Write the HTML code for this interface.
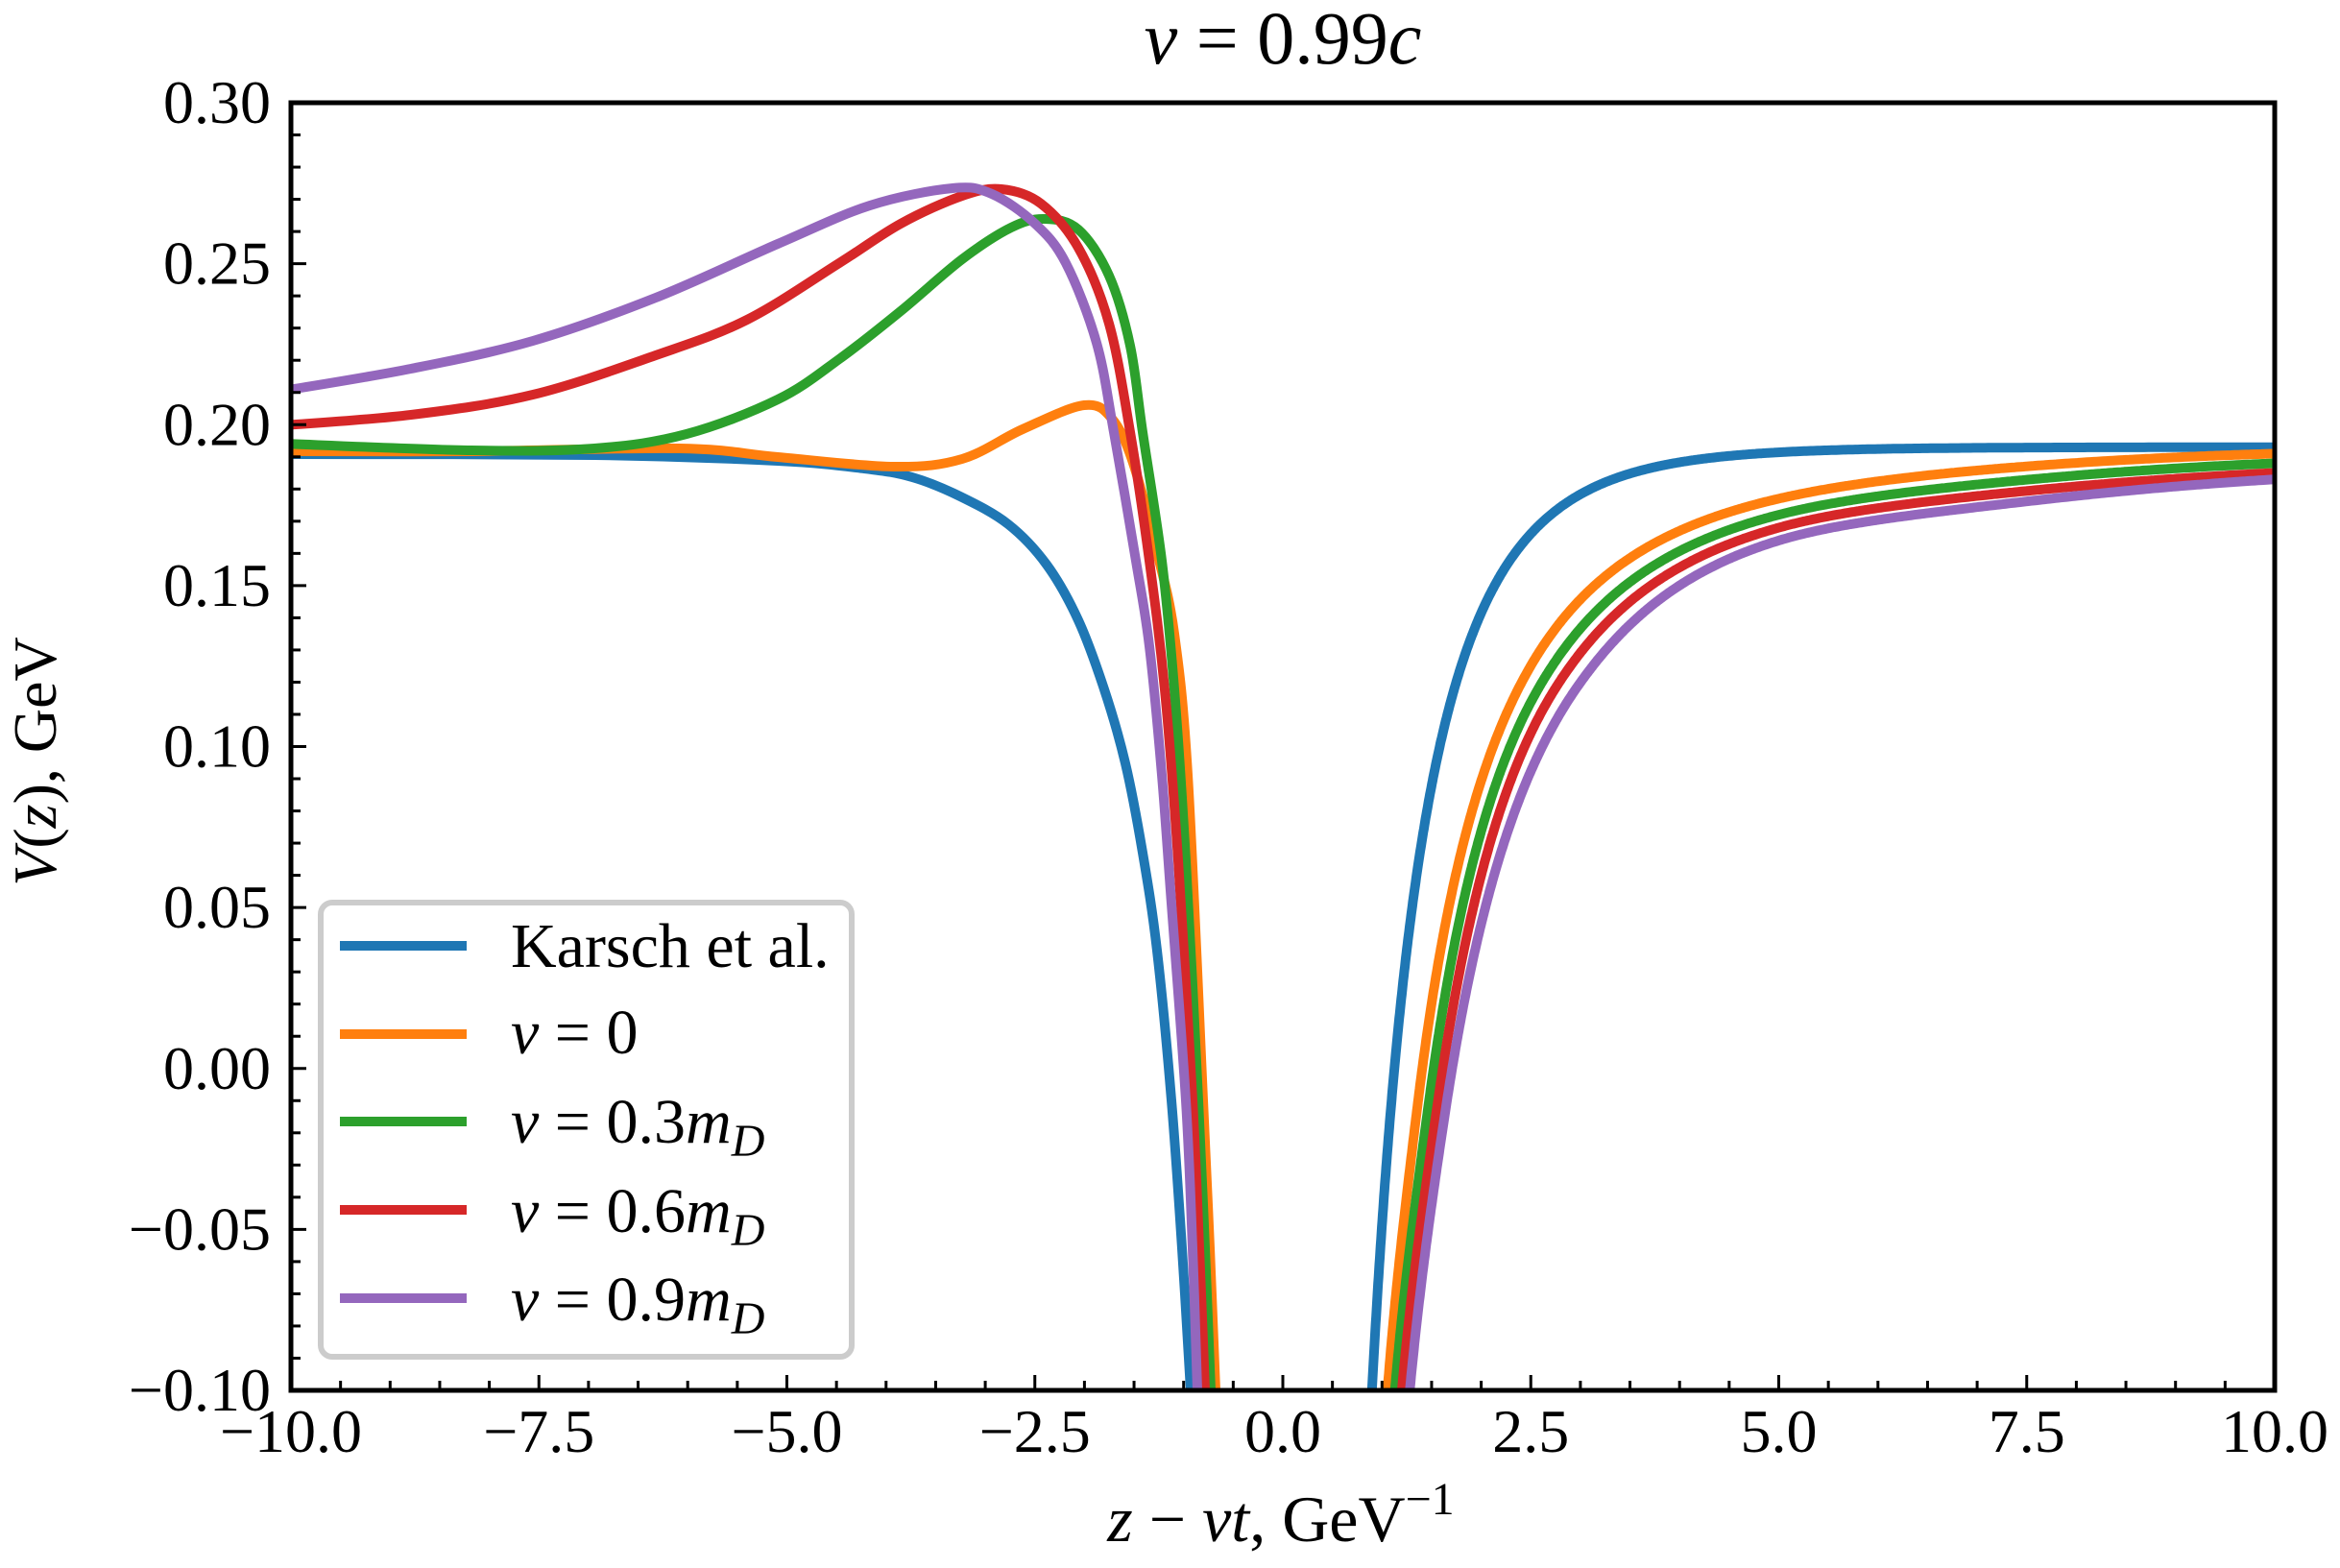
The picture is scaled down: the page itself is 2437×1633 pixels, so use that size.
<!DOCTYPE html>
<html><head><meta charset="utf-8"><style>
html,body{margin:0;padding:0;background:#fff;}
svg{display:block;}
text{font-family:"Liberation Serif",serif;fill:#000;}
</style></head><body>
<svg id="s" width="2437" height="1633" viewBox="0 0 2437 1633" xmlns="http://www.w3.org/2000/svg">
<defs><clipPath id="c"><rect x="303" y="107" width="2066" height="1341"/></clipPath></defs>
<rect width="2437" height="1633" fill="#fff"/>
<g id="curves" clip-path="url(#c)" fill="none" stroke-width="10" stroke-linejoin="round" stroke-linecap="butt"></g>
<g id="ticks" stroke="#000" stroke-width="3"></g>
<rect x="303" y="107" width="2066" height="1341" fill="none" stroke="#000" stroke-width="5"/>
<g id="labels" font-size="64"></g>
<text x="1336" y="66" font-size="78" text-anchor="middle"><tspan font-style="italic">v</tspan> = 0.99<tspan font-style="italic">c</tspan></text>
<text x="1334" y="1605" font-size="68" text-anchor="middle"><tspan font-style="italic">z</tspan> − <tspan font-style="italic">vt</tspan>, GeV<tspan dy="-28" font-size="48">−1</tspan></text>
<text transform="translate(58,793) rotate(-90)" font-size="64" text-anchor="middle"><tspan font-style="italic">V</tspan>(<tspan font-style="italic">z</tspan>), GeV</text>
<rect x="334" y="940" width="553" height="473" rx="12" fill="#fff" fill-opacity="0.85" stroke="#cccccc" stroke-width="6"/>
<g stroke-width="10">
<line x1="354" y1="985" x2="486" y2="985" stroke="#1f77b4"/>
<line x1="354" y1="1077" x2="486" y2="1077" stroke="#ff7f0e"/>
<line x1="354" y1="1168" x2="486" y2="1168" stroke="#2ca02c"/>
<line x1="354" y1="1260" x2="486" y2="1260" stroke="#d62728"/>
<line x1="354" y1="1352" x2="486" y2="1352" stroke="#9467bd"/>
</g>
<g font-size="66">
<text x="532" y="1007">Karsch et al.</text>
<text x="532" y="1097"><tspan font-style="italic">ν</tspan> = 0</text>
<text x="532" y="1190"><tspan font-style="italic">ν</tspan> = 0.3<tspan font-style="italic">m</tspan><tspan font-style="italic" font-size="48" dy="14">D</tspan></text>
<text x="532" y="1283"><tspan font-style="italic">ν</tspan> = 0.6<tspan font-style="italic">m</tspan><tspan font-style="italic" font-size="48" dy="14">D</tspan></text>
<text x="532" y="1375"><tspan font-style="italic">ν</tspan> = 0.9<tspan font-style="italic">m</tspan><tspan font-style="italic" font-size="48" dy="14">D</tspan></text>
</g>
</svg>
<script>
(function(){
var NS="http://www.w3.org/2000/svg";
function path(pts){
  var d="M"+pts[0][0]+","+pts[0][1];
  for(var i=0;i<pts.length-1;i++){
    var p0=pts[i-1]||pts[i],p1=pts[i],p2=pts[i+1],p3=pts[i+2]||p2;
    var c1=[p1[0]+(p2[0]-p0[0])/6,p1[1]+(p2[1]-p0[1])/6];
    var c2=[p2[0]-(p3[0]-p1[0])/6,p2[1]-(p3[1]-p1[1])/6];
    d+=" C"+c1[0].toFixed(1)+","+c1[1].toFixed(1)+" "+c2[0].toFixed(1)+","+c2[1].toFixed(1)+" "+p2[0]+","+p2[1];
  }
  return d;
}
function poly(pts){return "M"+pts.map(function(p){return p[0].toFixed(1)+","+p[1].toFixed(1);}).join(" L");}
function X(r){return 1336+r*103.3;}
function Y(v){return 107+(0.30-v)*3352.5;}
function interp(knots,r){
  var L=knots.map(function(k){return [Math.log(k[0]),Math.log(k[1])];});
  var lr=Math.log(r),n=L.length;
  if(lr<=L[0][0]){var s=(L[1][1]-L[0][1])/(L[1][0]-L[0][0]);return Math.exp(L[0][1]+s*(lr-L[0][0]));}
  if(lr>=L[n-1][0]){var s2=(L[n-1][1]-L[n-2][1])/(L[n-1][0]-L[n-2][0]);return Math.exp(L[n-1][1]+s2*(lr-L[n-1][0]));}
  var i=0;while(L[i+1][0]<lr)i++;
  function m(k){var a=L[Math.max(k-1,0)],b=L[Math.min(k+1,n-1)];return (b[1]-a[1])/(b[0]-a[0]);}
  var h=L[i+1][0]-L[i][0],t=(lr-L[i][0])/h;
  var h00=2*t*t*t-3*t*t+1,h10=t*t*t-2*t*t+t,h01=-2*t*t*t+3*t*t,h11=t*t*t-t*t;
  return Math.exp(h00*L[i][1]+h10*h*m(i)+h01*L[i+1][1]+h11*h*m(i+1));
}
function rightCurve(f,r0){
  var pts=[];
  for(var k=0;k<=600;k++){var r=r0*Math.pow(10.3/r0,k/600);var v=f(r);pts.push([X(r),Y(v)]);}
  return poly(pts);
}
var c=0.195;
var R={
"#1f77b4":rightCurve(function(r){return 0.193-0.566*Math.exp(-0.852*r)/r;},0.80),
"#ff7f0e":rightCurve(function(r){return c-interp([[1.055,.295],[1.36,.206],[2.37,.0773],[5,.018],[7.4,.0082],[10,.004]],r);},0.98),
"#2ca02c":rightCurve(function(r){return c-interp([[1.13,.295],[1.47,.206],[2.57,.0773],[5,.023],[7.4,.0124],[10,.007]],r);},1.05),
"#d62728":rightCurve(function(r){return c-interp([[1.2,.295],[1.56,.206],[2.74,.0773],[5,.027],[7.4,.0159],[10,.010]],r);},1.12),
"#9467bd":rightCurve(function(r){return c-interp([[1.28,.295],[1.65,.206],[2.95,.0773],[5,.031],[7.4,.0192],[10,.012]],r);},1.2)
};
var S={
"#1f77b4":[[295,473],[619,474],[810,480],[900,488],[950,497],[1000,517],[1050,546],[1090,588],[1123,646],[1150,718],[1172,795],[1190,888],[1205,990],[1220,1146],[1231,1300],[1240,1448],[1244,1520]],
"#ff7f0e":[[295,470],[491,470],[708,467],[810,476],[931,486],[1002,478],[1065,447],[1129,422],[1158,436],[1180,482],[1205,575],[1223,660],[1237,807],[1253,1146],[1260,1300],[1266,1448],[1270,1520]],
"#2ca02c":[[295,462],[491,469],[619,467],[715,452],[810,416],[874,374],[938,324],[1002,270],[1053,237],[1088,228],[1123,239],[1155,287],[1177,360],[1190,450],[1210,584],[1223,718],[1235,896],[1248,1146],[1255,1300],[1261,1448],[1264,1520]],
"#d62728":[[295,443],[428,432],[555,411],[683,370],[778,333],[874,274],[938,233],[1002,204],[1043,197],[1084,212],[1123,258],[1155,337],[1177,450],[1197,584],[1213,718],[1227,896],[1242,1146],[1249,1300],[1255,1448],[1258,1520]],
"#9467bd":[[295,407],[428,384],[555,355],[683,310],[810,254],[906,214],[992,196],[1033,202],[1078,233],[1110,274],[1142,357],[1160,450],[1183,584],[1197,673],[1210,807],[1220,941],[1235,1146],[1242,1300],[1247,1448],[1250,1520]]
};
var g=document.getElementById("curves");
["#1f77b4","#ff7f0e","#2ca02c","#d62728","#9467bd"].forEach(function(col){
  [path(S[col]),R[col]].forEach(function(d){
    var p=document.createElementNS(NS,"path");p.setAttribute("d",d);p.setAttribute("stroke",col);g.appendChild(p);
  });
});
var t=document.getElementById("ticks"),Lb=document.getElementById("labels");
function ln(x1,y1,x2,y2){var l=document.createElementNS(NS,"line");l.setAttribute("x1",x1);l.setAttribute("y1",y1);l.setAttribute("x2",x2);l.setAttribute("y2",y2);t.appendChild(l);}
function tx(x,y,s,a){var e=document.createElementNS(NS,"text");e.setAttribute("x",x);e.setAttribute("y",y);e.setAttribute("text-anchor",a);e.textContent=s;Lb.appendChild(e);}
for(var i=0;i<=40;i++){var v=-10+i*0.5,x=303+(v+10)*103.3;var maj=(i%5==0);ln(x,1448,x,1448-(maj?16:10));
 if(maj){var s=v.toFixed(1);if(v<0)s="\u2212"+(-v).toFixed(1);tx(x,1512,s,"middle");}}
for(var j=0;j<=40;j++){var vv=-0.10+j*0.01,y=1448-j*33.525;var mj=(j%5==0);ln(303,y,303+(mj?16:10),y);
 if(mj){var s2=Math.abs(vv).toFixed(2);if(vv<-1e-9)s2="\u2212"+s2;tx(282,y+21,s2,"end");}}
})();
</script>
</body></html>
